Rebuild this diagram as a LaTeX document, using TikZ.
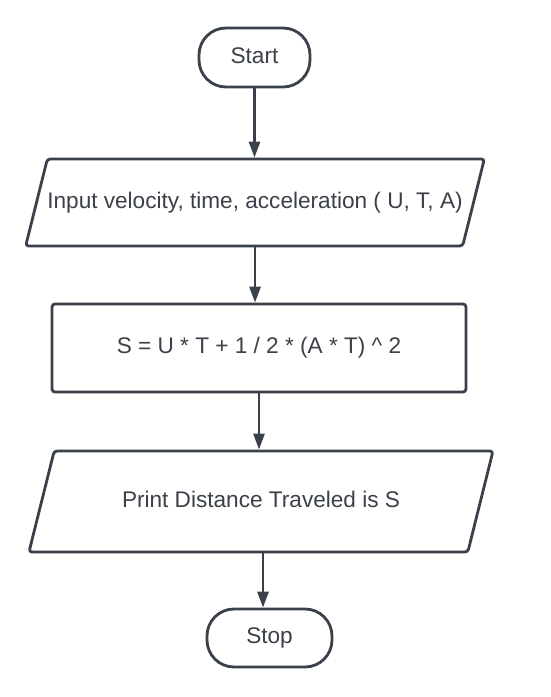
\documentclass[tikz,border=0pt]{standalone}
\usepackage{fontspec}
\setmainfont{Liberation Sans}
\usepackage{tikz}
\usetikzlibrary{arrows.meta,shapes.geometric}
\definecolor{ink}{HTML}{3A414A}
\definecolor{txt}{HTML}{3B4049}
\tikzset{
  shp/.style={draw=ink, line width=2.8pt, text=txt, font=\fontsize{22.6}{27}\selectfont,
    inner xsep=0pt, text height=16pt, text depth=5pt},
  term/.style={shp, rectangle, rounded corners=27pt, inner ysep=0pt},
  proc/.style={shp, rectangle, rounded corners=3pt, inner ysep=0pt},
  io/.style={shp, trapezium, trapezium left angle=76, trapezium right angle=104,
    trapezium stretches body, rounded corners=3pt},
  flow/.style={draw=ink, line width=2.8pt, -{Triangle[length=16pt,width=11pt]}},
}

\begin{document}
\begin{tikzpicture}[x=1pt, y=-1pt]
  \useasboundingbox[fill=white] (0,0) rectangle (550,697);

  \node[term, minimum width=111pt, minimum height=59pt] (start) at (254.5,57.5) {Start};
  \node[io, minimum width=454pt, inner ysep=33pt] (input) at (255,202.5)
    {Input velocity, time, acceleration ( U, T, A)};
  \node[proc, minimum width=414pt, minimum height=88pt] (calc) at (259,348)
    {S = U * T + 1 / 2 * (A * T) \^{} 2};
  \node[io, minimum width=464pt, inner ysep=40pt] (print) at (261,501.5)
    {Print Distance Traveled is S};
  \node[term, minimum width=125pt, minimum height=58pt] (stop) at (269.5,638) {Stop};

  \draw[flow] (start.south) -- (start.south |- input.north);
  \draw[flow] (input.south) -- (input.south |- calc.north);
  \draw[flow] (calc.south) -- (calc.south |- print.north);
  \draw[flow] ([xshift=2pt]print.south) -- ([xshift=2pt]print.south |- stop.north);
\end{tikzpicture}
\end{document}
